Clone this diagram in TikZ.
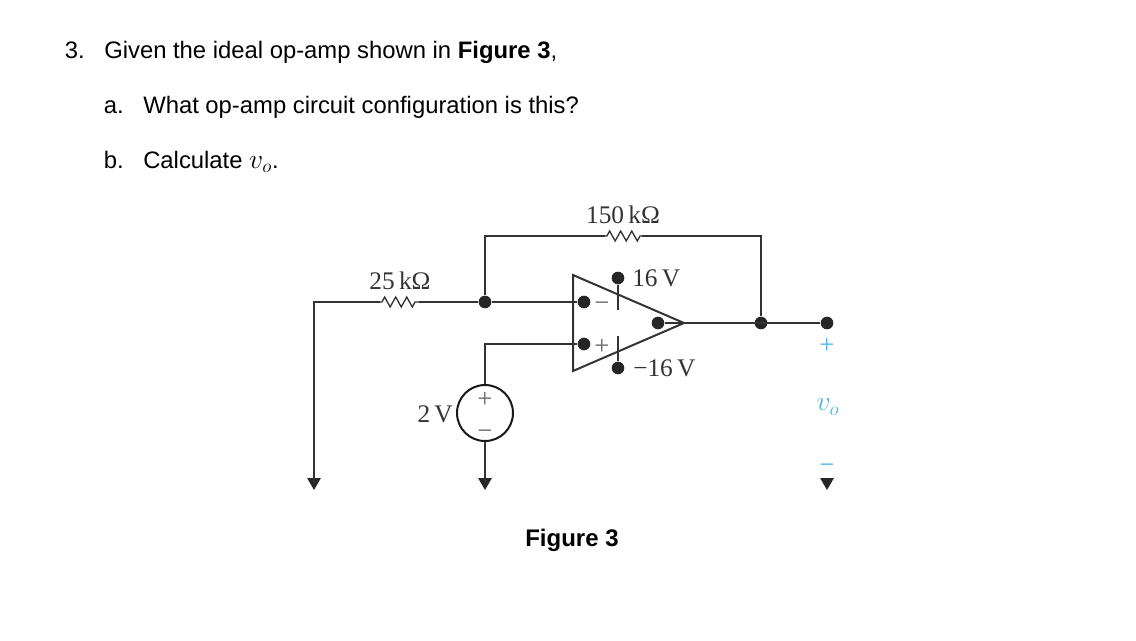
\documentclass[tikz,border=0pt]{standalone}
\usepackage{fontspec}
\setmainfont{Liberation Sans}
\newfontfamily\circuitfont{Liberation Serif}
\usetikzlibrary{shapes.geometric, decorations.pathmorphing}
\definecolor{wirecol}{HTML}{333333}
\definecolor{vocol}{HTML}{45B5EA}
\tikzset{
  wire/.style={draw=wirecol, line width=1pt},
  resistor/.style={wire, decorate, decoration={zigzag, amplitude=3.7pt, segment length=8.3pt, pre length=1.4pt, post length=1.4pt}},
  dot/.style={circle, fill=black!85, inner sep=0pt, minimum size=9.5pt},
  gnd/.style={regular polygon, regular polygon sides=3, shape border rotate=180, fill=black!85, inner sep=0pt, minimum size=12pt},
  question/.style={anchor=base west, inner sep=0pt, font=\fontsize{17.87}{20}\selectfont},
  value/.style={inner sep=0pt, text=wirecol, font=\circuitfont\fontsize{19}{21}\selectfont},
  sign/.style={inner sep=0pt, text=black!60, font=\circuitfont\fontsize{20}{22}\selectfont},
  vosign/.style={sign, text=vocol}
}
\begin{document}
\begin{tikzpicture}[x=0.75pt, y=-0.75pt]
  \useasboundingbox (0,0) rectangle (1136,640);

  \node[question] (Q3) at (64.5,58) {3.};
  \node[question] (Q3t) at (104,58) {Given the ideal op-amp shown in \textbf{Figure 3},};
  \node[question] (Qa) at (103.5,113) {a.};
  \node[question] (Qat) at (143,113) {What op-amp circuit configuration is this?};
  \node[question] (Qb) at (103.5,168) {b.};
  \node[question] (Qbt) at (143,168) {Calculate {\fontsize{20}{20}\selectfont$v_o$}.};
  \node[question, anchor=base, font=\fontsize{18}{20}\selectfont] (Fig) at (572,546) {\textbf{Figure 3}};

  \coordinate (OAtop) at (573,275);
  \coordinate (OAbot) at (573,371);
  \coordinate (OAout) at (684,323);
  \draw[draw=wirecol, line width=1.5pt, line join=miter] (OAtop) -- (OAbot) -- (OAout) -- cycle;

  \node[dot] (Junc) at (485,302) {};
  \node[dot] (Inv) at (584,302) {};
  \node[dot] (NonInv) at (584,344) {};
  \node[dot] (Out) at (658,323) {};
  \node[dot] (JuncOut) at (761,323) {};
  \node[dot] (Vo) at (827,323) {};
  \node[dot] (Vpos) at (618,278) {};
  \node[dot] (Vneg) at (618,368) {};
  \node[gnd] (GndL) at (314,482) {};
  \node[gnd] (GndS) at (485,482) {};
  \node[gnd] (GndO) at (827,482) {};
  \node[circle, draw=black!90, line width=1.5pt, inner sep=0pt, minimum size=42pt] (Vs) at (485,413) {};

  \coordinate (RinL) at (380,302);
  \coordinate (RinR) at (419,302);
  \coordinate (RfL) at (605,236);
  \coordinate (RfR) at (642,236);
  \coordinate (VposEnd) at (618,310);
  \coordinate (VnegEnd) at (618,336);

  \draw[wire] (GndL.center) |- (RinL);
  \draw[resistor] (RinL) -- (RinR);
  \draw[wire] (RinR) -- (Junc) -- (Inv);
  \draw[wire] (Junc) |- (RfL);
  \draw[resistor] (RfL) -- (RfR);
  \draw[wire] (RfR) -| (JuncOut);
  \draw[wire] (Out) -- (Vo);
  \draw[wire] (Vs) |- (NonInv);
  \draw[wire] (Vs) -- (GndS.center);
  \draw[wire] (Vpos) -- (VposEnd);
  \draw[wire] (Vneg) -- (VnegEnd);

  \node[value] (Rin) at (400,281) {25\,kΩ};
  \node[value] (Rf) at (623,215) {150\,kΩ};
  \node[value, anchor=west] (Vplus) at (632,278) {16\,V};
  \node[value, anchor=west] (Vminus) at (633,368) {−16\,V};
  \node[value, anchor=east] (Vsrc) at (453,414) {2\,V};

  \node[sign] (InvS) at (602,307) {−};
  \node[sign] (NonInvS) at (602,347) {+};
  \node[sign] (VsP) at (485,400) {+};
  \node[sign] (VsM) at (485,435) {−};
  \node[vosign] (VoP) at (827,346) {+};
  \node[vosign] (VoM) at (827,469) {−};
  \node[inner sep=0pt, text=vocol, font=\fontsize{20}{20}\selectfont] (VoL) at (828,407) {$v_o$};
\end{tikzpicture}
\end{document}
